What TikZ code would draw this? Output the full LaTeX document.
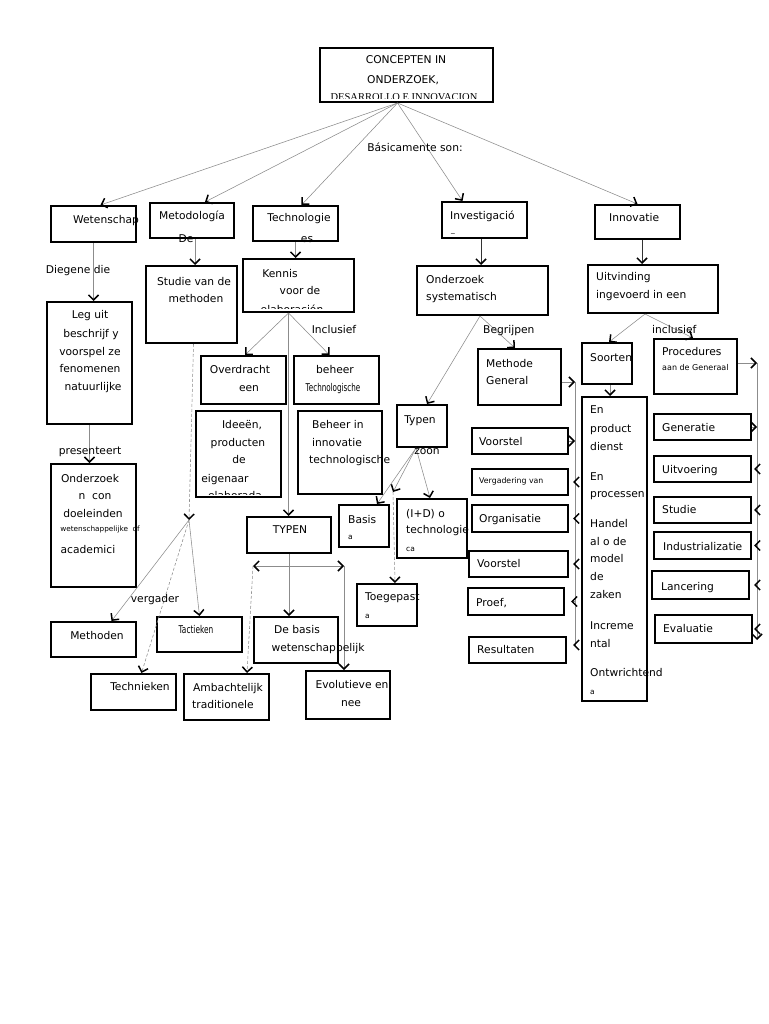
\documentclass[tikz,border=0pt]{standalone}
\usepackage{fontspec}
\setmainfont{DejaVu Sans}
\newfontfamily\serifcond{Liberation Serif}
\usepackage{graphicx}
\usetikzlibrary{arrows.meta,fit,calc}
\begin{document}
\begin{tikzpicture}[x=1pt,y=-1pt,
  box/.style={draw,line width=2pt,inner sep=0pt},
  tx/.style={font=\fontsize{10.7}{12}\selectfont,inner sep=0pt,anchor=base},
  txl/.style={tx,anchor=base west},
  sm/.style={font=\fontsize{7.5}{9}\selectfont},
  ln/.style={draw=black!45,line width=0.55pt},
  dk/.style={draw=black!80,line width=0.9pt},
  dsh/.style={ln,densely dashed},
  tip/.style={-{Straight Barb[length=5pt,width=10pt,line width=1.5pt,color=black]}},
  both/.style={{Straight Barb[length=5pt,width=10pt,line width=1.5pt,color=black]}-{Straight Barb[length=5pt,width=10pt,line width=1.5pt,color=black]}},
]
\fill[white] (0,0) rectangle (768,1024);
\useasboundingbox (0,0) rectangle (768,1024);

% ---------- boxes ----------
\node[box,fit={(320,48)(493,102)}] (title) {};
\node[box,fit={(51,206)(136,242)}] (wet) {};
\node[box,fit={(150,203)(234,238)}] (met) {};
\node[box,fit={(253,206)(338,241)}] (tec) {};
\node[box,fit={(442,202)(527,238)}] (inv) {};
\node[box,fit={(595,205)(680,239)}] (inn) {};
\node[box,fit={(47,302)(132,424)}] (leg) {};
\node[box,fit={(146,266)(237,343)}] (stu) {};
\node[box,fit={(243,259)(354,312)}] (ken) {};
\node[box,fit={(417,266)(548,315)}] (ond) {};
\node[box,fit={(588,265)(718,313)}] (uit) {};
\node[box,fit={(51,464)(136,587)}] (odk) {};
\node[box,fit={(201,356)(286,404)}] (ove) {};
\node[box,fit={(294,356)(379,404)}] (beh) {};
\node[box,fit={(196,411)(281,497)}] (ide) {};
\node[box,fit={(298,411)(382,494)}] (bhi) {};
\node[box,fit={(397,405)(447,447)}] (typ) {};
\node[box,fit={(339,505)(389,547)}] (bas) {};
\node[box,fit={(397,499)(467,558)}] (iod) {};
\node[box,fit={(357,584)(417,626)}] (toe) {};
\node[box,fit={(247,517)(331,553)}] (tyu) {};
\node[box,fit={(254,617)(338,663)}] (deb) {};
\node[box,fit={(184,674)(269,720)}] (amb) {};
\node[box,fit={(306,671)(390,719)}] (evo) {};
\node[box,fit={(51,622)(136,657)}] (mtd) {};
\node[box,fit={(157,617)(242,652)}] (tac) {};
\node[box,fit={(91,674)(176,710)}] (tcn) {};
\node[box,fit={(478,349)(561,405)}] (mge) {};
\node[box,fit={(582,343)(632,384)}] (soo) {};
\node[box,fit={(654,339)(737,394)}] (pro) {};
\node[box,fit={(582,397)(647,701)}] (col) {};
\node[box,fit={(472,428)(568,454)}] (vo1) {};
\node[box,fit={(472,469)(568,495)}] (vgd) {};
\node[box,fit={(472,505)(568,532)}] (org) {};
\node[box,fit={(469,551)(568,577)}] (vo2) {};
\node[box,fit={(468,588)(564,615)}] (prf) {};
\node[box,fit={(469,637)(566,663)}] (res) {};
\node[box,fit={(654,414)(751,440)}] (gen) {};
\node[box,fit={(654,456)(751,482)}] (uvo) {};
\node[box,fit={(654,497)(751,523)}] (std) {};
\node[box,fit={(654,532)(751,559)}] (ind) {};
\node[box,fit={(652,571)(749,599)}] (lan) {};
\node[box,fit={(655,615)(752,643)}] (eva) {};

% ---------- named free ends ----------
\coordinate (fan) at (189,520);
\coordinate (bl) at (253,566);
\coordinate (br) at (344,566);
\coordinate (tm) at (393,492);
\coordinate (lt) at (575,382);
\coordinate (lb) at (575,645);
\coordinate (rt) at (757,363);
\coordinate (rb) at (757,640);
\coordinate (tc) at ([xshift=-9pt]title.south);
\coordinate (kb) at ([xshift=-10pt]ken.south);
\coordinate (ob) at ([xshift=-2.5pt]ond.south);
\coordinate (tb) at (416,448);
\coordinate (ub) at ([xshift=-8pt]uit.south);

% ---------- connectors ----------
\draw[ln,tip] (tc) -- ([xshift=7pt]wet.north);
\draw[ln,tip] (tc) -- ([xshift=13pt]met.north);
\draw[ln,tip] (tc) -- ([xshift=6pt]tec.north);
\draw[ln,tip] (tc) -- ([xshift=-22pt]inv.north);
\draw[ln,tip] (tc) -- (inn.north);

\draw[ln,tip] (wet.south) -- (wet.south |- leg.north);
\draw[ln,tip] ([xshift=3pt]met.south) -- ([xshift=3pt]met.south |- stu.north);
\draw[ln,tip] (tec.south) -- (tec.south |- ken.north);
\draw[dk,tip] ([xshift=-3.5pt]inv.south) -- ([xshift=-3.5pt]inv.south |- ond.north);
\draw[dk,tip] ([xshift=4.5pt]inn.south) -- ([xshift=4.5pt]inn.south |- uit.north);
\draw[ln,tip] (leg.south) -- (leg.south |- odk.north);

\draw[dsh,tip] ([xshift=2pt]stu.south) -- (fan);
\draw[ln,tip] (fan) -- ([xshift=18pt]mtd.north);
\draw[dsh,tip] (fan) -- ([xshift=8pt]tcn.north);
\draw[ln,tip] (fan) -- (tac.north);

\draw[ln,tip] (kb) -- ([xshift=1.5pt]ove.north);
\draw[ln,tip] (kb) -- ([xshift=-7pt]beh.north);
\draw[ln,tip] (kb) -- (kb |- tyu.north);

\draw[ln,tip] (tyu.south) -- (tyu.south |- deb.north);
\draw[ln,both] (bl) -- (br);
\draw[dsh,tip] (bl) -- ([xshift=20.5pt]amb.north);
\draw[ln,tip] (br) -- ([xshift=-4pt]evo.north);

\draw[ln,tip] (ob) -- ([xshift=5pt]typ.north);
\draw[ln,tip] (ob) -- ([xshift=-4.5pt]mge.north);

\draw[ln,tip] (tb) -- ([xshift=13pt]bas.north);
\draw[ln,tip] (tb) -- (tm);
\draw[dsh,tip] (tm) -- ([xshift=8pt]toe.north);
\draw[ln,tip] (tb) -- ([xshift=-2pt]iod.north);

\draw[ln,tip] (ub) -- ([xshift=2pt]soo.north);
\draw[ln,tip] (ub) -- ([xshift=-2.5pt]pro.north);
\draw[ln,tip] ([xshift=3pt]soo.south) -- ([xshift=3pt]soo.south |- col.north);

\draw[ln] (lt) -- (lb);
\draw[ln,tip] (mge.east |- lt) -- (lt);
\draw[ln,tip] (vo1.east) -- (lt |- vo1.east);
\draw[ln,tip] (lt |- vgd.east) -- ([xshift=4pt]vgd.east);
\draw[ln,tip] (lt |- org.east) -- ([xshift=4pt]org.east);
\draw[ln,tip] (lt |- vo2.east) -- ([xshift=4pt]vo2.east);
\draw[ln,tip] (lt |- prf.east) -- ([xshift=6pt]prf.east);
\draw[ln,tip] (lb) -- ([xshift=6pt]res.east |- lb);

\draw[ln,tip] (rt) -- (rb);
\draw[ln,tip] (pro.east |- rt) -- (rt);
\draw[ln,tip] (gen.east) -- (rt |- gen.east);
\draw[ln,tip] (rt |- uvo.east) -- ([xshift=2pt]uvo.east);
\draw[ln,tip] (rt |- std.east) -- ([xshift=2pt]std.east);
\draw[ln,tip] (rt |- ind.east) -- ([xshift=2pt]ind.east);
\draw[ln,tip] (rt |- lan.east) -- ([xshift=4pt]lan.east);
\draw[ln,tip] (rt |- eva.east) -- ([xshift=1pt]eva.east);

% ---------- texts ----------
\node[tx] (t1) at (406,64) {CONCEPTEN IN};
\node[tx] (t2) at (403,84) {ONDERZOEK,};
\begin{scope}
\clip (321,49) rectangle (492,99);
\node[tx,font=\serifcond\fontsize{10.5}{12}\selectfont] (t3) at (404,100.5) {DESARROLLO E INNOVACION};
\end{scope}
\node[tx] (basi) at (415,152) {Básicamente son:};

\node[txl] (wetT) at (73,223) {Wetenschap};
\node[tx] (metT) at (192,220) {Metodología};
\node[tx] (metD) at (186,243) {De};
\node[tx] (tecT) at (299,222) {Technologie};
\node[tx] (tecE) at (307,242) {es};
\node[txl] (invT) at (450,220) {Investigació};
\node[txl,sm] (invU) at (451,233) {\_};
\node[txl] (innT) at (609,222) {Innovatie};

\node[tx] (dieg) at (78,273) {Diegene die};
\node[tx] (stu1) at (194,285) {Studie van de};
\node[tx] (stu2) at (196,302) {methoden};
\node[tx] (ken1) at (280,277) {Kennis};
\node[tx] (ken2) at (300,294) {voor de};
\begin{scope}
\clip (244,260) rectangle (353,308.5);
\node[tx] (ken3) at (292,313) {elaboración};
\end{scope}
\node[txl] (ond1) at (426,283) {Onderzoek};
\node[txl] (ond2) at (426,300) {systematisch};
\node[txl] (uit1) at (596,280) {Uitvinding};
\node[txl] (uit2) at (596,298) {ingevoerd in een};

\node[tx] (leg1) at (90,318) {Leg uit};
\node[tx] (leg2) at (91,337) {beschrijf y};
\node[tx] (leg3) at (90,355) {voorspel ze};
\node[tx] (leg4) at (90,372) {fenomenen};
\node[tx] (leg5) at (93,390) {natuurlijke};
\node[tx] (pres) at (90,454) {presenteert};
\node[tx] (odk1) at (90,482) {Onderzoek};
\node[tx] (odk2) at (95,499) {n\ \ con};
\node[tx] (odk3) at (93,517) {doeleinden};
\node[tx,font=\fontsize{7.3}{9}\selectfont] (odk4) at (100,531) {wetenschappelijke\ \ of};
\node[tx] (odk5) at (88,553) {academici};

\node[tx] (incl) at (334,333) {Inclusief};
\node[tx] (ove1) at (240,373) {Overdracht};
\node[tx] (ove2) at (249,391) {een};
\node[tx] (beh1) at (335,373) {beheer};
\node[tx] (beh2) at (333,391) {\scalebox{0.67}[1]{Technologische}};
\node[tx] (ide1) at (242,428) {Ideeën,};
\node[tx] (ide2) at (238,446) {producten};
\node[tx] (ide3) at (239,463) {de};
\node[tx] (ide4) at (225,482) {eigenaar};
\begin{scope}
\clip (197,412) rectangle (280,494.5);
\node[tx] (ide5) at (235,499) {elaborada};
\end{scope}
\node[txl] (bhi1) at (312,428) {Beheer in};
\node[txl] (bhi2) at (312,446) {innovatie};
\node[txl] (bhi3) at (309,463) {technologische};

\node[tx] (typT) at (420,423) {Typen};
\node[tx] (zoon) at (427,454) {zoon};
\node[txl] (bas1) at (348,523) {Basis};
\node[txl,sm] (bas2) at (348,539) {a};
\node[txl] (iod1) at (406,517) {(I+D) o};
\node[txl] (iod2) at (406,533) {technologie};
\node[txl,sm] (iod3) at (406,551) {ca};
\node[txl] (toe1) at (365,600) {Toegepast};
\node[txl,sm] (toe2) at (365,618) {a};

\node[tx] (tyuT) at (290,533) {TYPEN};
\node[tx] (deb1) at (297,633) {De basis};
\node[tx] (deb2) at (318,651) {wetenschappelijk};
\node[tx] (amb1) at (228,691) {Ambachtelijk};
\node[tx] (amb2) at (223,708) {traditionele};
\node[tx] (evo1) at (352,688) {Evolutieve en};
\node[tx] (evo2) at (351,706) {nee};

\node[tx] (mtdT) at (97,639) {Methoden};
\node[tx] (tacT) at (196,633) {\scalebox{0.69}[1]{Tactieken}};
\node[tx] (tcnT) at (140,690) {Technieken};
\node[tx] (verg) at (155,602) {vergader};

\node[txl] (begr) at (483,333) {Begrijpen};
\node[txl] (mge1) at (486,367) {Methode};
\node[txl] (mge2) at (486,384) {General};
\node[txl] (sooT) at (590,361) {Soorten};
\node[txl] (incl2) at (652,333) {inclusief};
\node[txl] (pro1) at (662,355) {Procedures};
\node[txl,font=\fontsize{8}{9}\selectfont] (pro2) at (662,370) {aan de Generaal};

\foreach \t/\y [count=\i] in {En/413, product/432, dienst/450, En/480, processen/497, Handel/527, al o de/545, model/562, de/580, zaken/598, Increme/629, ntal/647, Ontwrichtend/676}
  \node[txl] (colt\i) at (590,\y) {\t};
\node[txl,sm] (colt14) at (590,694) {a};

\node[txl] (vo1T) at (479,445) {Voorstel};
\node[txl,font=\fontsize{7.8}{9}\selectfont] (vgdT) at (479,483) {Vergadering van};
\node[txl] (orgT) at (479,522) {Organisatie};
\node[txl] (vo2T) at (477,567) {Voorstel};
\node[txl] (prfT) at (476,606) {Proef,};
\node[txl] (resT) at (477,653) {Resultaten};

\node[txl] (genT) at (662,431) {Generatie};
\node[txl] (uvoT) at (662,473) {Uitvoering};
\node[txl] (stdT) at (662,513) {Studie};
\node[txl] (indT) at (663,550) {Industrializatie};
\node[txl] (lanT) at (661,590) {Lancering};
\node[txl] (evaT) at (663,632) {Evaluatie};
\end{tikzpicture}
\end{document}
